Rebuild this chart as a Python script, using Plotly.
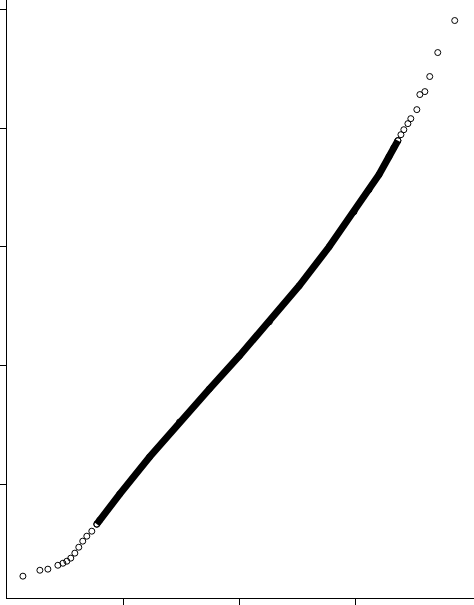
import plotly.graph_objects as go

# lower tail
x_low = [-1.863, -1.717, -1.648, -1.562, -1.519, -1.485, -1.451, -1.416, -1.382, -1.348, -1.313, -1.270, -1.227]
y_low = [-2.776, -2.726, -2.717, -2.684, -2.667, -2.650, -2.624, -2.582, -2.532, -2.481, -2.439, -2.397, -2.338]
# dense body
x_body = [-1.227, -1.202, -1.030, -0.773, -0.515, -0.258, 0.0, 0.258, 0.515, 0.773, 0.987, 1.116, 1.202, 1.288, 1.330, 1.365]
y_body = [-2.338, -2.304, -2.084, -1.772, -1.477, -1.198, -0.920, -0.633, -0.329, 0.0, 0.295, 0.481, 0.608, 0.759, 0.835, 0.895]
# upper tail
x_high = [1.365, 1.391, 1.416, 1.451, 1.476, 1.528, 1.554, 1.597, 1.639, 1.708, 1.854]
y_high = [0.895, 0.945, 0.987, 1.038, 1.080, 1.156, 1.283, 1.308, 1.435, 1.637, 1.907]

fig = go.Figure()
fig.add_trace(go.Scatter(x=x_body, y=y_body, mode='lines',
                         line=dict(color='black', width=7)))
for xs, ys in [(x_low, y_low), (x_body, y_body), (x_high, y_high)]:
    fig.add_trace(go.Scatter(x=xs, y=ys, mode='markers',
                             marker=dict(symbol='circle-open', size=6, color='black',
                                         line=dict(width=1))))

axis = dict(showgrid=False, zeroline=False, showline=True, linecolor='black',
            ticks='outside', ticklen=6, tickcolor='black', showticklabels=False,
            automargin=False)
fig.update_xaxes(range=[-2.0, 2.02], tickvals=[-1, 0, 1], **axis)
fig.update_yaxes(range=[-2.96, 2.08], tickvals=[-2, -1, 0, 1, 2], **axis)
fig.update_layout(width=474, height=605, showlegend=False,
                  plot_bgcolor='white', paper_bgcolor='white',
                  margin=dict(l=7, r=0, t=0, b=7))
fig.write_html("out.html", config={'displayModeBar': False},
               post_script="document.body.style.margin='0';")
